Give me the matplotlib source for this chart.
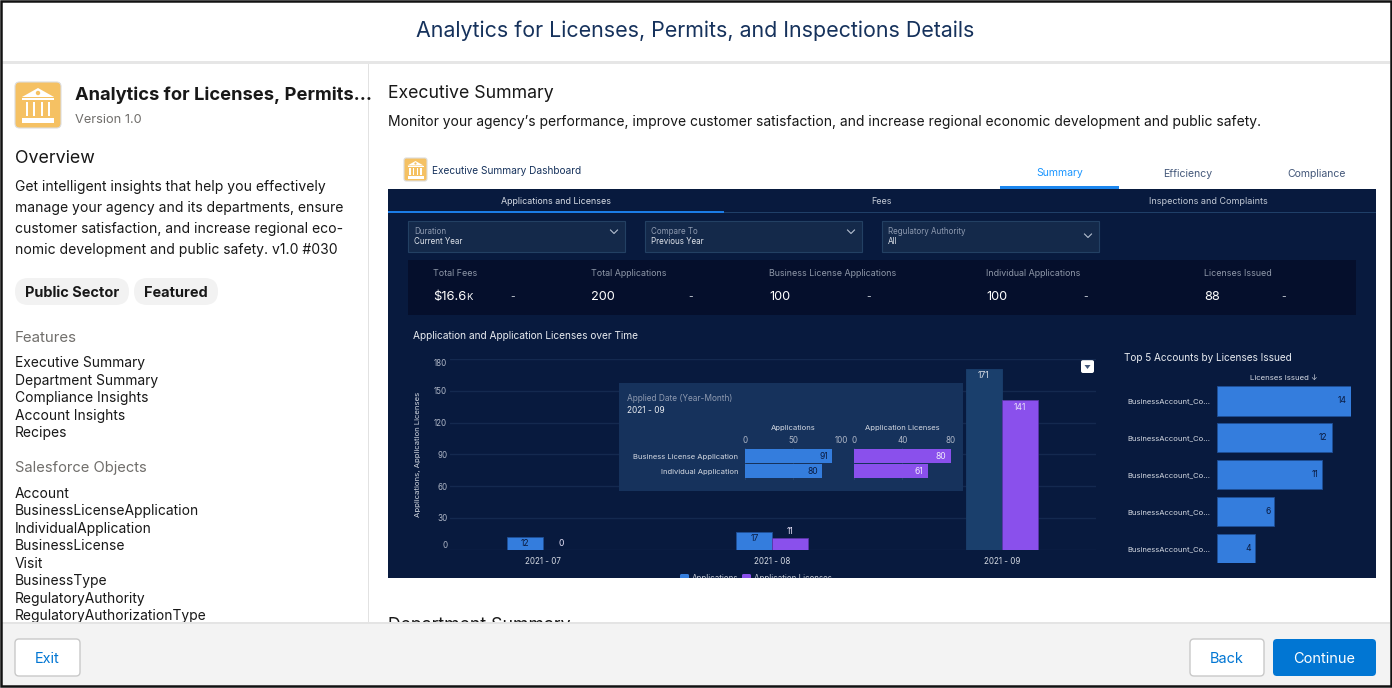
"""
Pantalla de detalles de la app de analitica, con los graficos del dashboard.
"""
import matplotlib
matplotlib.use("Agg")
import matplotlib.pyplot as plt
from matplotlib.patches import Rectangle, FancyBboxPatch, Polygon, Circle

plt.rcParams["font.family"] = ["Inter", "DejaVu Sans"]

W, H = 1392, 688

# <--------------------------- Datos --------------------------->
months = ["2021 - 07", "2021 - 08", "2021 - 09"]
applications = [12, 17, 171]
app_licenses = [0, 11, 141]
y_ticks = [0, 30, 60, 90, 120, 150, 180]

tip_categories = ["Business License Application", "Individual Application"]
tip_applications = [91, 80]
tip_licenses = [80, 61]
tip_app_ticks = [0, 50, 100]
tip_lic_ticks = [0, 40, 80]

top_accounts = ["BusinessAccount_Co..."] * 5
top_licenses = [14, 12, 11, 6, 4]

features = ["Executive Summary", "Department Summary", "Compliance Insights",
            "Account Insights", "Recipes"]
sf_objects = ["Account", "BusinessLicenseApplication", "IndividualApplication",
              "BusinessLicense", "Visit", "BusinessType", "RegulatoryAuthority",
              "RegulatoryAuthorizationType"]
overview = ["Get intelligent insights that help you effectively",
            "manage your agency and its departments, ensure",
            "customer satisfaction, and increase regional eco-",
            "nomic development and public safety. v1.0 #030"]
filters = [("Duration", "Current Year"), ("Compare To", "Previous Year"),
           ("Regulatory Authority", "All")]
kpis = [("Total Fees", "$16.6K"), ("Total Applications", "200"),
        ("Business License Applications", "100"),
        ("Individual Applications", "100"), ("Licenses Issued", "88")]

# colores
BLUE = "#347ddd"
PURPLE = "#8a50ec"
HILITE = "#1a3f6c"
PANEL = "#081a3e"
GRID = "#14294f"
INK = "#181818"
TICK = "#aeb6c6"

fig = plt.figure(figsize=(W / 100, H / 100), dpi=100, facecolor="white")
ui = fig.add_axes([0, 0, 1, 1], zorder=1)
ui.set_xlim(0, W)
ui.set_ylim(H, 0)
ui.axis("off")


def px_axes(x0, y0, x1, y1, z=3):
    ax = fig.add_axes([x0 / W, 1 - y1 / H, (x1 - x0) / W, (y1 - y0) / H], zorder=z)
    ax.patch.set_alpha(0)
    return ax


def rect(x0, y0, x1, y1, color, z=1, **kw):
    ui.add_patch(Rectangle((x0, y0), x1 - x0, y1 - y0, fc=color, ec="none", zorder=z, **kw))


def rrect(x0, y0, x1, y1, r, fc, ec="none", lw=1, z=2):
    ui.add_patch(FancyBboxPatch((x0 + r, y0 + r), x1 - x0 - 2 * r, y1 - y0 - 2 * r,
                                boxstyle=f"round,pad={r},rounding_size={r}",
                                fc=fc, ec=ec, lw=lw, zorder=z))


def txt(x, y, s, px, color=INK, ha="left", z=5, **kw):
    # el centro de Inter queda un poco alto, se baja segun el tamano
    ui.text(x, y + px * 0.09, s, fontsize=px * 0.72, color=color, ha=ha, va="center", zorder=z, **kw)


def bank_icon(x, y, s):
    rrect(x, y, x + s, y + s, s * 0.1, "#f5c163", ec="#dcdcdc", lw=0.8)
    k = s / 46
    ui.add_patch(Polygon([(x + 23 * k, y + 6 * k), (x + 39 * k, y + 15 * k), (x + 7 * k, y + 15 * k)],
                         fc="white", ec="none", zorder=3))
    ui.add_patch(Circle((x + 23 * k, y + 11 * k), 2.2 * k, fc="#f5c163", ec="none", zorder=4))
    rect(x + 7 * k, y + 16 * k, x + 39 * k, y + 18 * k, "white", 3)
    for c in [12, 19, 27, 34]:
        rect(x + c * k - 1.3 * k, y + 20 * k, x + c * k + 1.3 * k, y + 34 * k, "white", 3)
    rect(x + 7 * k, y + 36 * k, x + 39 * k, y + 41 * k, "white", 3)


def chevron(x, y):
    ui.plot([x - 3.5, x, x + 3.5], [y - 2, y + 1.5, y - 2], color="#b5bfd0", lw=0.8, zorder=5)


# <--------------------------- Marco y cabecera --------------------------->
txt(695.5, 29, "Analytics for Licenses, Permits, and Inspections Details", 21.4,
    color="#16325c", ha="center")
rect(2, 61, 1390, 64, "#e6e6e6")
rect(368, 64, 369.3, 623, "#e2e2e2")

# <--------------------------- Barra lateral --------------------------->
bank_icon(15, 82, 46)
txt(75, 94, "Analytics for Licenses, Permits...", 18.3, weight="bold", color="#181818")
txt(75, 118.5, "Version 1.0", 12.8, color="#706e6b")
txt(15, 157, "Overview", 17.8)
for i, line in enumerate(overview):
    txt(15, 186 + i * 21, line, 13.95)
rrect(15, 278, 129, 305, 13.5, "#f2f2f2")
rrect(134, 278, 218, 305, 13.5, "#f2f2f2")
txt(72, 292, "Public Sector", 14.5, ha="center", weight="bold")
txt(176, 292, "Featured", 14.5, ha="center", weight="bold")
txt(15, 337, "Features", 15, color="#706e6b")
for i, line in enumerate(features):
    txt(15, 362 + i * 17.5, line, 13.85)
txt(15, 467, "Salesforce Objects", 14.7, color="#706e6b")
for i, line in enumerate(sf_objects):
    txt(15, 492.5 + i * 17.5, line, 13.85)

# <--------------------------- Contenido --------------------------->
txt(388, 92, "Executive Summary", 17.7)
txt(388, 121, "Monitor your agency\u2019s performance, improve customer satisfaction, "
    "and increase regional economic development and public safety.", 13.87)
txt(388, 624, "Department Summary", 17.7, z=1)

bank_icon(404, 158, 23)
txt(432, 170, "Executive Summary Dashboard", 10.1, color="#16325c")
txt(1059.5, 172, "Summary", 10.5, color="#1b96ff", ha="center")
txt(1188, 173, "Efficiency", 10.5, color="#44587a", ha="center")
txt(1316.5, 173, "Compliance", 10.5, color="#44587a", ha="center")
rect(1000, 186, 1119, 189, "#1b86ee", 3)

# panel oscuro
rect(388, 189, 1376, 578, PANEL)
rect(388, 212, 1376, 213, "#1f3f68", 2)
rect(388, 210.5, 724, 213, "#1b7de8", 3)
txt(556, 200.5, "Applications and Licenses", 8.9, color="#d8dde6", ha="center")
txt(881, 201, "Fees", 8.9, color="#c3cad6", ha="center")
txt(1208, 201, "Inspections and Complaints", 9, color="#c3cad6", ha="center")

for (label, value), x0 in zip(filters, [408, 645, 882]):
    rect(x0, 221, x0 + 217, 252, "#14294a", 2)
    ui.add_patch(Rectangle((x0, 221), 217, 31, fc="none", ec="#234063", lw=0.8, zorder=3))
    txt(x0 + 6, 231, label, 8, color="#8e9ab0")
    txt(x0 + 6, 241.2, value, 8, color="#dfe3ea")
    chevron(x0 + 206, 232 if x0 < 882 else 236)

rect(408, 260, 1356, 315, "#050f2c", 2)
for (label, value), x0, dash in zip(kpis, [433, 591, 769, 986, 1204], [513, 691, 869, 1086, 1284]):
    txt(x0, 272.5, label, 8.9, color="#8e97a8")
    if value.endswith("K"):
        txt(x0, 295.8, "$16.6", 13, color="white")
        txt(x0 + 33, 296.8, "K", 9.5, color="white")
    else:
        txt(x0, 295.8, value, 12.8, color="white")
    txt(dash, 296, "-", 10, color="#c9ced8", ha="center")

txt(413, 335.5, "Application and Application Licenses over Time", 10.1, color="#e8ebf0")
txt(1124, 357.5, "Top 5 Accounts by Licenses Issued", 10, color="#e8ebf0")

# leyenda cortada por el borde del panel
rrect(680, 574, 689, 586, 1.5, BLUE)
txt(692, 578, "Applications", 8, color="#c9ced8", z=2)
rrect(742, 574, 751, 586, 1.5, PURPLE)
txt(754, 578, "Application Licenses", 8, color="#c9ced8", z=2)
rect(388, 578, 1376, 610, "white", 4)

# pie de pagina
rect(2, 623, 1390, 686, "#f3f3f3", 6)
rect(2, 622, 1390, 623.5, "#e4e4e4", 6)
rrect(15, 639, 80, 676, 4, "white", ec="#c9c9c9", z=7)
txt(47.5, 657.5, "Exit", 14.5, color="#0176d3", ha="center", z=8)
rrect(1190, 639, 1264, 676, 4, "white", ec="#c9c9c9", z=7)
txt(1227, 657.5, "Back", 14.5, color="#0176d3", ha="center", z=8)
rrect(1273, 639, 1376, 676, 4, "#0176d3", z=7)
txt(1324.5, 657.5, "Continue", 14.5, color="white", ha="center", z=8)
ui.add_patch(Rectangle((1, 1), W - 2, H - 3, fc="none", ec="#111111", lw=1.8, zorder=10))

# <--------------------------- Grafico principal --------------------------->
ax = px_axes(450, 359, 1096, 549.5)
pos = range(len(months))
bw = 0.157
app_colors = [BLUE, BLUE, HILITE]
app_edges = ["#1f4f96", "#1f4f96", HILITE]
ax.bar([p - bw / 2 for p in pos], applications, bw, color=app_colors, ec=app_edges, lw=0.6, zorder=2)
ax.bar([p + bw / 2 for p in pos], app_licenses, bw, color=PURPLE, ec="#5a35a8", lw=0.6, zorder=2)
ax.set_xlim(-0.405, 2.41)
ax.set_ylim(0, 180)
ax.set_yticks(y_ticks)
ax.set_xticks(list(pos), months)
ax.grid(axis="y", color=GRID, lw=1, zorder=0)
ax.tick_params(axis="both", length=0, labelsize=5.8, labelcolor=TICK, pad=2)
ax.tick_params(axis="x", labelcolor="#d4d9e2", pad=5.5)
# las etiquetas de los extremos quedan dentro del area del grafico
ylabels = ax.get_yticklabels()
ylabels[0].set_verticalalignment("bottom")
ylabels[-1].set_verticalalignment("top")
for s in ax.spines.values():
    s.set_visible(False)
ax.set_ylabel("Applications, Application Licenses", fontsize=5.6, color="#d4d9e2", labelpad=9)
for p, v, c in zip(pos, applications, app_colors):
    ax.annotate(str(v), (p - bw / 2, v), xytext=(0, -5), textcoords="offset points",
                ha="center", va="center", fontsize=6.2, zorder=4,
                color="#0a1b40" if c == BLUE else "#dfe3ea")
for p, v in zip(pos, app_licenses):
    off = -5 if v > 100 else 4.5
    ax.annotate(str(v), (p + bw / 2, v), xytext=(0, off), textcoords="offset points",
                ha="center", va="center", fontsize=6.2, color="#e8e2f8", zorder=4)

# boton del filtro
rrect(1081, 360, 1094, 373, 2, "white", z=2)
ui.add_patch(Polygon([(1084.5, 365), (1090.5, 365), (1087.5, 369)], fc="#44587a", ec="none", zorder=3))

# <--------------------------- Tooltip --------------------------->
tip = px_axes(619, 383, 963, 491, z=4)
tip.patch.set_alpha(1)
tip.patch.set_facecolor("#16325c")
tip.set_xticks([])
tip.set_yticks([])
for s in tip.spines.values():
    s.set_visible(False)
tip.text(8 / 344, 0.861, "Applied Date (Year-Month)", transform=tip.transAxes,
         fontsize=6, color="#8e9ab0", va="center")
tip.text(8 / 344, 0.741, "2021 - 09", transform=tip.transAxes,
         fontsize=6, color="#e8ebf0", va="center")


def tip_bars(x0, x1, values, ticks, color, title, max_val, labels=False):
    a = px_axes(x0, 448, x1, 479.5, z=5)
    a.barh(range(len(values)), values, 0.92, color=color, zorder=2)
    a.set_xlim(0, max_val)
    a.set_ylim(1.55, -0.55)
    a.set_xticks(ticks)
    a.xaxis.tick_top()
    a.tick_params(axis="x", length=0, labelsize=5.8, labelcolor=TICK, pad=2.5)
    a.grid(axis="x", color="#25436e", lw=0.6, zorder=0)
    if labels:
        a.set_yticks(range(len(tip_categories)), tip_categories)
        a.tick_params(axis="y", length=0, labelsize=5.5, labelcolor="#d4d9e2", pad=5)
    else:
        a.set_yticks([])
    for s in a.spines.values():
        s.set_visible(False)
    for i, v in enumerate(values):
        a.annotate(str(v), (v, i), xytext=(-3, 0), textcoords="offset points", ha="right",
                   va="center", fontsize=6.2, zorder=4,
                   color="#0a1b40" if color == BLUE else "#efe9fb")
    a.set_title(title, fontsize=5.5, color="#d4d9e2", pad=13)


tip_bars(745, 841, tip_applications, tip_app_ticks, BLUE, "Applications", 100, labels=True)
tip_bars(854, 950.5, tip_licenses, tip_lic_ticks, PURPLE, "Application Licenses", 80)

# <--------------------------- Top 5 cuentas --------------------------->
top = px_axes(1217, 386, 1351, 563)
top.barh(range(len(top_licenses)), top_licenses, 0.8, color=BLUE, ec="#1f4f96", lw=0.6)
top.set_xlim(0, max(top_licenses))
top.set_ylim(4.4, -0.4)
top.set_xticks([])
top.set_yticks(range(len(top_accounts)), top_accounts)
top.tick_params(axis="y", length=0, labelsize=5.5, labelcolor="#d4d9e2", pad=5)
for s in top.spines.values():
    s.set_visible(False)
for i, v in enumerate(top_licenses):
    top.annotate(str(v), (v, i), xytext=(-3, 0), textcoords="offset points", ha="right",
                 va="center", fontsize=6.2, color="#0a1b40")
txt(1284, 377.5, "Licenses Issued \u2193", 7.8, color="#d4d9e2", ha="center")

fig.savefig("out.png", dpi=100, facecolor="white")
